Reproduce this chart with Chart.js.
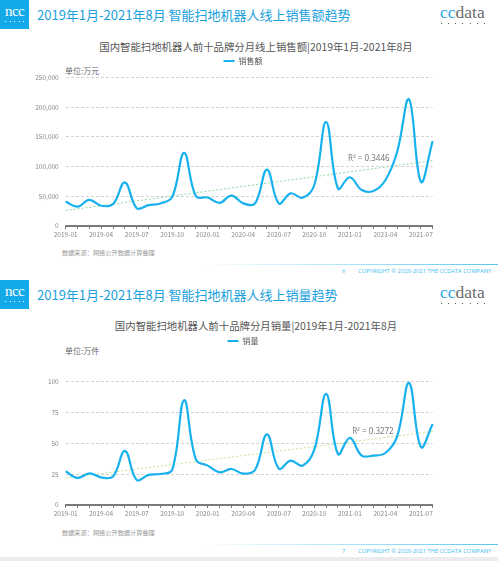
<!DOCTYPE html>
<html>
<head>
<meta charset="utf-8">
<script src="https://cdn.jsdelivr.net/npm/chart.js@4.4.1/dist/chart.umd.min.js"></script>
<style>
    html, body { margin: 0; padding: 0; background: #fff; }
    body { width: 498px; height: 561px; position: relative; overflow: hidden; font-family: "Noto Sans CJK SC", "Noto Sans", sans-serif; }
    .slide { position: absolute; left: 0; width: 498px; height: 280px; }
    .abs { position: absolute; white-space: nowrap; line-height: 1; }
    .ncc { left: 0; top: 0; width: 29px; height: 29px; background: #14a9e8; color: #fff; font-family: "Liberation Serif", serif; font-size: 15px; text-align: center; }
    .ncc span { display: block; margin-top: 4px; letter-spacing: -0.6px; }
    .dots { position: absolute; display: flex; gap: 0; justify-content: space-between; }
    .dots i { display: block; width: 1px; height: 1px; }
    .titulo { left: 37px; font-size: 13px; color: #1a9fdd; }
    .logo { left: 440px; font-family: "Liberation Serif", serif; font-size: 17.5px; color: #6e6e6e; }
    .logo b { font-weight: normal; color: #2aa6df; }
    .subtitulo { left: 0; width: 512px; text-align: center; font-size: 10.4px; color: #555; }
    .unidad { left: 65px; font-size: 8px; color: #666; }
    .fuente { left: 62px; font-size: 6.2px; color: #999; }
    .linea-pie { left: 200px; width: 298px; height: 1.5px; background: linear-gradient(to right, rgba(255,255,255,0), #58c8f2); }
    .pie { font-family: "Open Sans", sans-serif; font-size: 5.8px; color: #3fbdee; }
    canvas { position: absolute; left: 0; }
    .franja { position: absolute; left: 0; top: 557px; width: 498px; height: 4px; background: #ececee; }
</style>
</head>
<body>

<!-- ============ SLIDE 1: ventas ============ -->
<div class="slide" style="top:0">
    <div class="abs ncc"><span>ncc</span></div>
    <div class="dots" style="left:5px;top:21px;width:19px"><i style="background:#fff"></i><i style="background:#fff"></i><i style="background:#fff"></i><i style="background:#fff"></i><i style="background:#fff"></i></div>
    <div class="abs titulo" style="top:8px">2019年1月-2021年8月 智能扫地机器人线上销售额趋势</div>
    <div class="abs logo" style="top:4px"><b>cc</b>data</div>
    <div class="dots" style="left:441px;top:23px;width:44px"><i style="background:#555"></i><i style="background:#555"></i><i style="background:#555"></i><i style="background:#555"></i><i style="background:#555"></i><i style="background:#555"></i><i style="background:#555"></i></div>
    <div class="abs subtitulo" style="top:42px">国内智能扫地机器人前十品牌分月线上销售额|2019年1月-2021年8月</div>
    <div class="abs unidad" style="top:67px">单位:万元</div>
    <canvas id="ventasChart" width="498" height="189" style="top:51px;width:498px;height:189px"></canvas>
    <div class="abs fuente" style="top:250px">数据来源：网络公开数据计算整理</div>
    <div class="abs linea-pie" style="top:263.5px"></div>
    <div class="abs pie" style="top:269px;left:342px">6</div>
    <div class="abs pie" style="top:269px;left:358px">COPYRIGHT © 2020-2021 THE CCDATA COMPANY</div>
</div>

<!-- ============ SLIDE 2: volumen ============ -->
<div class="slide" style="top:280px">
    <div class="abs ncc"><span>ncc</span></div>
    <div class="dots" style="left:5px;top:21px;width:19px"><i style="background:#fff"></i><i style="background:#fff"></i><i style="background:#fff"></i><i style="background:#fff"></i><i style="background:#fff"></i></div>
    <div class="abs titulo" style="top:8px">2019年1月-2021年8月 智能扫地机器人线上销量趋势</div>
    <div class="abs logo" style="top:4px"><b>cc</b>data</div>
    <div class="dots" style="left:441px;top:23px;width:44px"><i style="background:#555"></i><i style="background:#555"></i><i style="background:#555"></i><i style="background:#555"></i><i style="background:#555"></i><i style="background:#555"></i><i style="background:#555"></i></div>
    <div class="abs subtitulo" style="top:41px">国内智能扫地机器人前十品牌分月销量|2019年1月-2021年8月</div>
    <div class="abs unidad" style="top:67px">单位:万件</div>
    <canvas id="volumenChart" width="498" height="188" style="top:51px;width:498px;height:188px"></canvas>
    <div class="abs fuente" style="top:250px">数据来源：网络公开数据计算整理</div>
    <div class="abs linea-pie" style="top:263.5px"></div>
    <div class="abs pie" style="top:269px;left:342px">7</div>
    <div class="abs pie" style="top:269px;left:358px">COPYRIGHT © 2020-2021 THE CCDATA COMPANY</div>
</div>
<div class="franja"></div>

<script>
/* ============ DATOS ============ */

const meses = [
    "2019-01", "2019-02", "2019-03", "2019-04", "2019-05", "2019-06", "2019-07", "2019-08",
    "2019-09", "2019-10", "2019-11", "2019-12", "2020-01", "2020-02", "2020-03", "2020-04",
    "2020-05", "2020-06", "2020-07", "2020-08", "2020-09", "2020-10", "2020-11", "2020-12",
    "2021-01", "2021-02", "2021-03", "2021-04", "2021-05", "2021-06", "2021-07", "2021-08"
];

// 销售额, 万元
const ventas = [
    41000, 32500, 44000, 34000, 37000, 73500, 30000, 35000,
    38000, 49000, 123000, 50000, 48000, 39000, 51000, 38000,
    38000, 95000, 38000, 55000, 47500, 69000, 175000, 63000,
    82000, 60500, 59000, 77000, 125000, 213000, 74500, 143000
];

// 销量, 万件
const volumen = [
    27.2, 21.8, 25.6, 22.3, 23, 43.7, 20.2, 24.3,
    25, 28.6, 84.6, 36.7, 31.8, 26.4, 29.1, 25.3,
    28.5, 57.1, 29.4, 35.8, 31.8, 44.7, 89.8, 41.2,
    54.2, 39.9, 39.9, 42, 55.5, 98.7, 46.9, 65.5
];

const ticksVentas = [0, 50000, 100000, 150000, 200000, 250000];
const ticksVolumen = [0, 25, 50, 75, 100];

/* ============ UTILIDADES ============ */

// recta de mínimos cuadrados (línea de tendencia de Excel)
function tendenciaLineal(valores) {
    const n = valores.length;
    const mx = (n - 1) / 2;
    const my = valores.reduce((s, v) => s + v, 0) / n;
    let num = 0, den = 0;
    valores.forEach((v, i) => { num += (i - mx) * (v - my); den += (i - mx) * (i - mx); });
    const b = num / den;
    return valores.map((v, i) => my + b * (i - mx));
}

const etiquetaR2 = {
    id: "etiquetaR2",
    afterDatasetsDraw(chart, args, opts) {
        if (!opts.text) return;
        const { ctx, scales } = chart;
        ctx.save();
        ctx.font = '8px "Noto Sans", sans-serif';
        ctx.fillStyle = "#777";
        ctx.textAlign = "center";
        ctx.textBaseline = "middle";
        ctx.fillText(opts.text, scales.x.getPixelForValue(opts.at[0]), scales.y.getPixelForValue(opts.at[1]));
        ctx.restore();
    }
};

// espacio extra debajo de la leyenda
const espacioLeyenda = {
    id: "espacioLeyenda",
    beforeInit(chart) {
        const gap = chart.options.plugins.espacioLeyenda.gap || 0;
        const fitOriginal = chart.legend.fit;
        chart.legend.fit = function () {
            fitOriginal.bind(chart.legend)();
            this.height += gap;
        };
    }
};

Chart.defaults.font.family = '"Noto Sans CJK SC", "Noto Sans", sans-serif';

/* ============ GRÁFICOS ============ */

function crearGrafico(canvasId, etiqueta, valores, ticks, colorTendencia, r2, gap) {
    const ctx = document.getElementById(canvasId);
    return new Chart(ctx, {
        type: "line",
        data: {
            labels: meses,
            datasets: [
                {
                    label: etiqueta,
                    data: valores,
                    borderColor: "#18b1ef",
                    backgroundColor: "#18b1ef",
                    borderWidth: 2.2,
                    tension: 0.4,
                    pointRadius: 0
                },
                {
                    label: "趋势",
                    data: tendenciaLineal(valores),
                    borderColor: colorTendencia,
                    borderWidth: 1,
                    borderDash: [2, 2],
                    tension: 0,
                    pointRadius: 0
                }
            ]
        },
        options: {
            responsive: false,
            animation: false,
            layout: { padding: { left: 0, right: 12, top: 0, bottom: 0 } },
            plugins: {
                legend: {
                    position: "top",
                    labels: {
                        filter: item => item.datasetIndex === 0,
                        usePointStyle: true,
                        pointStyle: "line",
                        pointStyleWidth: 11,
                        padding: 6,
                        color: "#555",
                        font: { size: 8 }
                    }
                },
                tooltip: { enabled: false },
                etiquetaR2: r2,
                espacioLeyenda: { gap: gap }
            },
            scales: {
                x: {
                    grid: { drawOnChartArea: false, drawTicks: true, tickLength: 3, color: "#7a7a7a", lineWidth: 1 },
                    border: { color: "#7a7a7a", width: 2 },
                    ticks: {
                        autoSkip: false,
                        maxRotation: 0,
                        padding: 2,
                        color: "#888",
                        font: { size: 6.5 },
                        callback: (v, i) => (i % 3 === 0 ? meses[i] : "")
                    },
                    afterFit: s => { s.height = 14; }
                },
                y: {
                    min: ticks[0],
                    max: ticks[ticks.length - 1],
                    afterBuildTicks: s => { s.ticks = ticks.map(v => ({ value: v })); },
                    grid: { color: "#c8c8c8", lineWidth: 0.8, drawTicks: false },
                    border: { display: true, color: "rgba(0,0,0,0)", dash: [3, 2] },
                    ticks: {
                        padding: 7,
                        color: "#888",
                        font: { size: 6.5 },
                        callback: v => v.toLocaleString("en-US")
                    },
                    afterFit: s => { s.width = 65.7; }
                },
                derecha: {
                    position: "right",
                    display: true,
                    grid: { display: false },
                    border: { display: false },
                    ticks: { display: false },
                    afterFit: s => { s.width = 53.3; }
                }
            }
        },
        plugins: [etiquetaR2, espacioLeyenda]
    });
}

function initGraficos() {
    crearGrafico("ventasChart", "销售额", ventas, ticksVentas, "#8fd9a0",
        { text: "R² = 0.3446", at: [25.6, 112700] }, 2.4);
    crearGrafico("volumenChart", "销量", volumen, ticksVolumen, "#c4e694",
        { text: "R² = 0.3272", at: [25.95, 59.3] }, 26.2);
}

document.addEventListener("DOMContentLoaded", initGraficos);
</script>
</body>
</html>
